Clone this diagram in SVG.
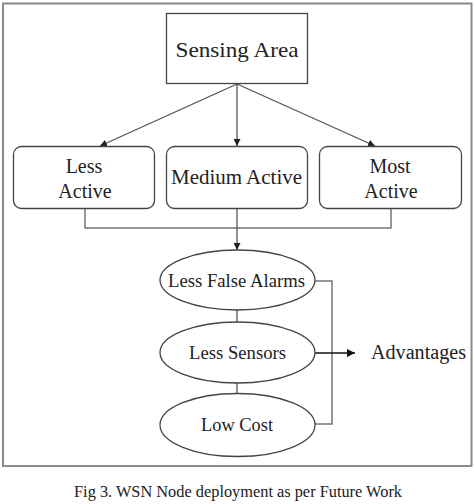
<svg xmlns="http://www.w3.org/2000/svg" width="474" height="504" viewBox="0 0 474 504">
<defs>
<marker id="ah" viewBox="0 0 10 10" refX="10" refY="5" markerWidth="7" markerHeight="7" markerUnits="userSpaceOnUse" orient="auto">
<path d="M0,0 L10,5 L0,10 z" fill="#222"/>
</marker>
<marker id="ah2" viewBox="0 0 10 10" refX="10" refY="5" markerWidth="10" markerHeight="8" markerUnits="userSpaceOnUse" orient="auto">
<path d="M0,0 L10,5 L0,10 z" fill="#111"/>
</marker>
</defs>
<style>
.t{font-family:'Liberation Serif','DejaVu Serif',serif;fill:#222;text-anchor:middle}
.box{fill:#fff;stroke:#444;stroke-width:1.3}
.conn{fill:none;stroke:#777;stroke-width:1.5}
.arr{fill:none;stroke:#555;stroke-width:1.3}
</style>
<rect x="0" y="0" width="474" height="504" fill="#fff"/>
<rect x="3" y="3.5" width="468.5" height="462.5" fill="none" stroke="#8a8a8a" stroke-width="2"/>
<g id="connectors">
<line class="arr" x1="237" y1="84" x2="100" y2="146" marker-end="url(#ah)"/>
<line class="arr" x1="237" y1="84" x2="237" y2="146" marker-end="url(#ah)"/>
<line class="arr" x1="237" y1="84" x2="375" y2="146" marker-end="url(#ah)"/>
<polyline class="conn" points="85,208 85,228 391,228 391,208"/>
<line class="arr" x1="237" y1="208" x2="237" y2="250" marker-end="url(#ah)"/>
<line class="arr" x1="237" y1="310" x2="237" y2="322"/>
<line class="arr" x1="237" y1="383" x2="237" y2="394"/>
<polyline class="conn" points="315,281 332,281 332,424 315,424"/>
<line x1="315" y1="353" x2="355" y2="353" stroke="#111" stroke-width="1.6" marker-end="url(#ah2)"/>
</g>
<g id="sensing-area">
<rect class="box" x="166.5" y="13.5" width="141" height="70"/>
<text class="t" x="237" y="57" font-size="21" textLength="123" lengthAdjust="spacingAndGlyphs">Sensing Area</text>
</g>
<g id="less-active">
<rect class="box" x="13.5" y="146.5" width="141" height="62" rx="8"/>
<text class="t" x="84" y="173" font-size="20">Less</text>
<text class="t" x="85" y="198" font-size="20">Active</text>
</g>
<g id="medium-active">
<rect class="box" x="166.5" y="146.5" width="141" height="62" rx="8"/>
<text class="t" x="236.5" y="184" font-size="20" textLength="131" lengthAdjust="spacingAndGlyphs">Medium Active</text>
</g>
<g id="most-active">
<rect class="box" x="319.5" y="146.5" width="142" height="62" rx="8"/>
<text class="t" x="390" y="173" font-size="20">Most</text>
<text class="t" x="391" y="198" font-size="20">Active</text>
</g>
<g id="less-false-alarms">
<ellipse class="box" cx="237.5" cy="280" rx="77.5" ry="30"/>
<text class="t" x="236.5" y="287" font-size="18" textLength="137" lengthAdjust="spacingAndGlyphs">Less False Alarms</text>
</g>
<g id="less-sensors">
<ellipse class="box" cx="237.5" cy="352.5" rx="77.5" ry="30.5"/>
<text class="t" x="237.5" y="359" font-size="18.5" textLength="97" lengthAdjust="spacingAndGlyphs">Less Sensors</text>
</g>
<g id="low-cost">
<ellipse class="box" cx="237.5" cy="425" rx="77.5" ry="31.5"/>
<text class="t" x="237" y="431" font-size="18.5" textLength="72" lengthAdjust="spacingAndGlyphs">Low Cost</text>
</g>
<g id="advantages">
<text class="t" x="418.5" y="359" font-size="20" textLength="95" lengthAdjust="spacingAndGlyphs">Advantages</text>
</g>
<text class="t" x="238" y="497" font-size="16.2" textLength="328" lengthAdjust="spacingAndGlyphs">Fig 3. WSN Node deployment as per Future Work</text>
</svg>
